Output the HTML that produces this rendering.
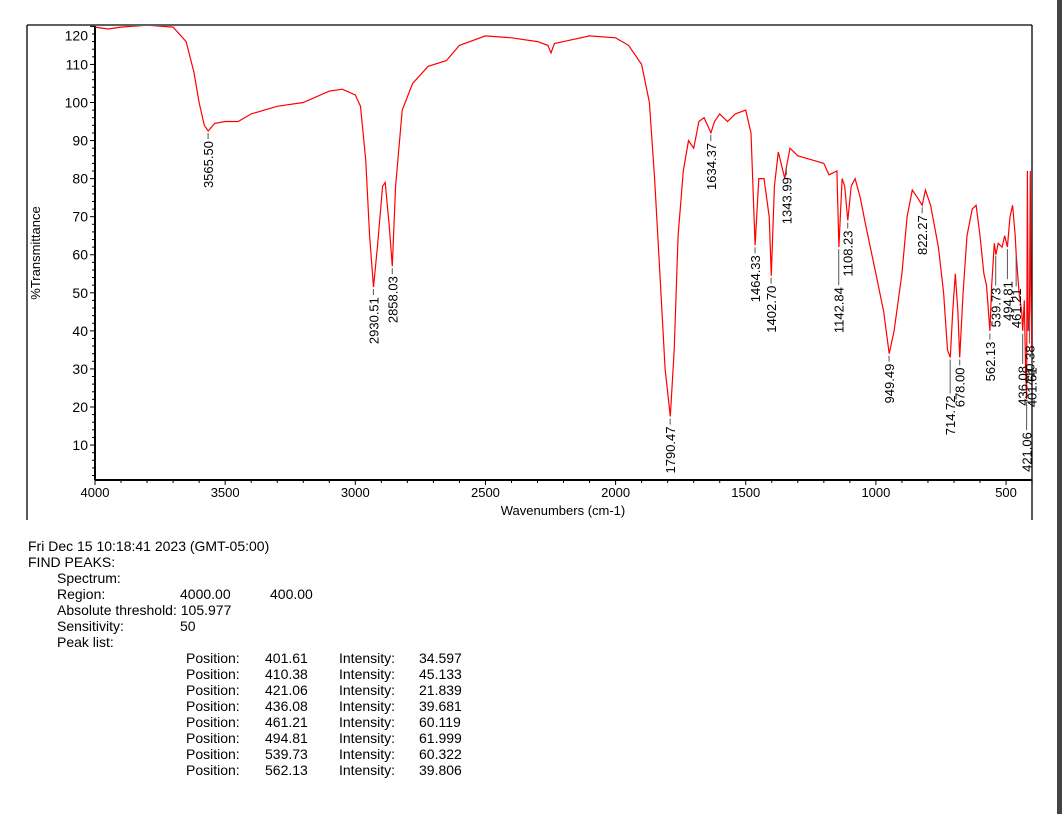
<!DOCTYPE html>
<html><head><meta charset="utf-8"><style>
body{margin:0;background:#fff;width:1062px;height:814px;overflow:hidden;font-family:"Liberation Sans",sans-serif}
svg{position:absolute;left:0;top:0}
.t{position:absolute;font-size:14px;line-height:16px;color:#000;white-space:pre}
</style></head><body>
<svg width="1062" height="814">
<defs><clipPath id="pc"><rect x="95" y="26" width="937" height="454"/></clipPath></defs>
<rect x="1057" y="0" width="5" height="814" fill="#444"/>
<line x1="27" y1="25" x2="1032" y2="25" stroke="#000" stroke-width="1.3"/>
<line x1="27" y1="25" x2="27" y2="520" stroke="#000" stroke-width="1.3"/>
<line x1="1032" y1="25" x2="1032" y2="520" stroke="#000" stroke-width="1.3"/>
<g id="axes"></g>
<path id="spec" fill="none" stroke="#f00" stroke-width="1.2" clip-path="url(#pc)"/>
<g id="peaks"></g>
<text x="40" y="253" font-size="13" text-anchor="middle" transform="rotate(-90 40 253)">%Transmittance</text>
<text x="563" y="515" font-size="13" text-anchor="middle">Wavenumbers (cm-1)</text>
</svg>
<div class="t" style="left:28px;top:538px">Fri Dec 15 10:18:41 2023 (GMT-05:00)</div>
<div class="t" style="left:28px;top:554px">FIND PEAKS:</div>
<div class="t" style="left:57px;top:570px">Spectrum:</div>
<div class="t" style="left:57px;top:586px">Region:</div>
<div class="t" style="left:180px;top:586px">4000.00</div>
<div class="t" style="left:270px;top:586px">400.00</div>
<div class="t" style="left:57px;top:602px">Absolute threshold: 105.977</div>
<div class="t" style="left:57px;top:618px">Sensitivity:</div>
<div class="t" style="left:180px;top:618px">50</div>
<div class="t" style="left:57px;top:634px">Peak list:</div>
<div id="plist"></div>
<script>
const wn=[4000,3950,3900,3800,3700,3650,3620,3600,3580,3565,3540,3500,3450,3400,3300,3200,3100,3050,3000,2980,2960,2945,2930,2915,2895,2885,2870,2858,2845,2820,2780,2720,2650,2600,2500,2400,2300,2260,2248,2235,2200,2100,2000,1950,1900,1870,1850,1830,1810,1790,1775,1760,1740,1720,1700,1680,1660,1640,1634,1620,1600,1570,1540,1500,1480,1464,1450,1430,1410,1402,1390,1375,1350,1344,1330,1300,1250,1200,1180,1150,1142,1130,1120,1108,1095,1080,1060,1040,1000,970,949,930,900,880,860,840,822,810,790,760,740,725,714,705,695,685,678,665,650,630,615,600,585,575,562,555,545,539,530,515,505,495,485,475,465,461,450,440,436,430,425,421,418,415,410,407,404,401.6];
const tr=[119.8,119.3,119.8,120.3,119.8,116,108,100,94,92.5,94.5,95,95,97,99,100,103,103.5,102,99,85,65,51.5,62,78,79,68,57,78,98,105,109.5,111,115,117.5,117,116,115,113,115.5,116,117.5,117,115,110,100,80,55,30,17.5,35,65,82,90,88,95,96,93,92,95,97,95,97,98,92,62.5,80,80,70,54.5,78,87,80,83,88,86,85,84,81,82,62,80,78,69,78,80,75,68,55,45,34,40,55,70,77,75,73,77,73,62,50,35,33,45,55,45,33,50,65,72,73,65,55,52,40,52,63,60,63,62,65,62,70,73,65,60,50,45,40,48,30,22,82,40,45,82,50,34.6];
const peakPos=[3565.50,2930.51,2858.03,1790.47,1634.37,1464.33,1402.70,1343.99,1142.84,1108.23,949.49,822.27,714.72,678.00,562.13,539.73,494.81,461.21,436.08,421.06,410.38,401.61];
const peakVal=[92.5,51.5,57,17.5,92,62.5,54.5,83,62,69,34,73,33,33,39.8,60.3,62,60.1,39.7,21.8,45.1,34.6];
const peakLabel=["3565.50","2930.51","2858.03","1790.47","1634.37","1464.33","1402.70","1343.99","1142.84","1108.23","949.49","822.27","714.72","678.00","562.13","539.73","494.81","461.21","436.08","421.06","410.38","401.61"];
const leader=[6,6,6,6,6,6,6,6,36,6,6,6,34,6,6,30,30,30,30,28,30,12];
const yTicks=[10,20,30,40,50,60,70,80,90,100,110,120];
const xTicks=[4000,3500,3000,2500,2000,1500,1000,500];
const X=w=>95+(4000-w)*0.2603, Y=v=>102.5+(100-v)*3.806;
const NS="http://www.w3.org/2000/svg";
function mk(t,a,p){const e=document.createElementNS(NS,t);for(const k in a)e.setAttribute(k,a[k]);p.appendChild(e);return e;}
const ax=document.getElementById('axes');
let e=mk('line',{x1:95,y1:26,x2:95,y2:480,stroke:'#000','stroke-width':2},ax);


e=mk('line',{x1:95,y1:480,x2:1032,y2:480,stroke:'#000','stroke-width':2},ax);


for(let v=2;v<=120;v+=2){mk('line',{x1:v%10?92:90,x2:95,y1:Y(v),y2:Y(v),stroke:'#000'},ax);}
yTicks.forEach(v=>{const yy=v===120?Y(v)+14:Y(v)+5;const t=mk('text',{x:88,y:yy,'font-size':14,'text-anchor':'end'},ax);t.textContent=v;

});
for(let w=4000;w>=400;w-=100){mk('line',{x1:X(w),x2:X(w),y1:480,y2:w%500?483:485,stroke:'#000'},ax);}
xTicks.forEach(w=>{const t=mk('text',{x:X(w),y:497,'font-size':13,'text-anchor':'middle'},ax);t.textContent=w;

});
document.getElementById('spec').setAttribute('d',wn.map((w,i)=>(i?'L':'M')+X(w).toFixed(1)+' '+Y(tr[i]).toFixed(1)).join(''));
const pg=document.getElementById('peaks');
peakPos.forEach((w,i)=>{const x=X(w),y0=Y(peakVal[i])+2,y1=y0+leader[i];
const l=mk('line',{x1:x,x2:x,y1:y0,y2:y1,stroke:'#555'},pg);


const t=mk('text',{x:x+5,y:y1+2,'font-size':13,'text-anchor':'end',transform:`rotate(-90 ${x+5} ${y1+2})`},pg);
t.textContent=peakLabel[i];

});
const pp=["401.61","410.38","421.06","436.08","461.21","494.81","539.73","562.13"];
const pi=["34.597","45.133","21.839","39.681","60.119","61.999","60.322","39.806"];
const pl=document.getElementById('plist');
pp.forEach((p,i)=>{const top=650+i*16;
[[186,'Position:'],[265,p],[339,'Intensity:'],[419,pi[i]]].forEach(([l,s])=>{const d=document.createElement('div');d.className='t';d.style.left=l+'px';d.style.top=top+'px';d.textContent=s;


pl.appendChild(d);});});
</script>
</body></html>
